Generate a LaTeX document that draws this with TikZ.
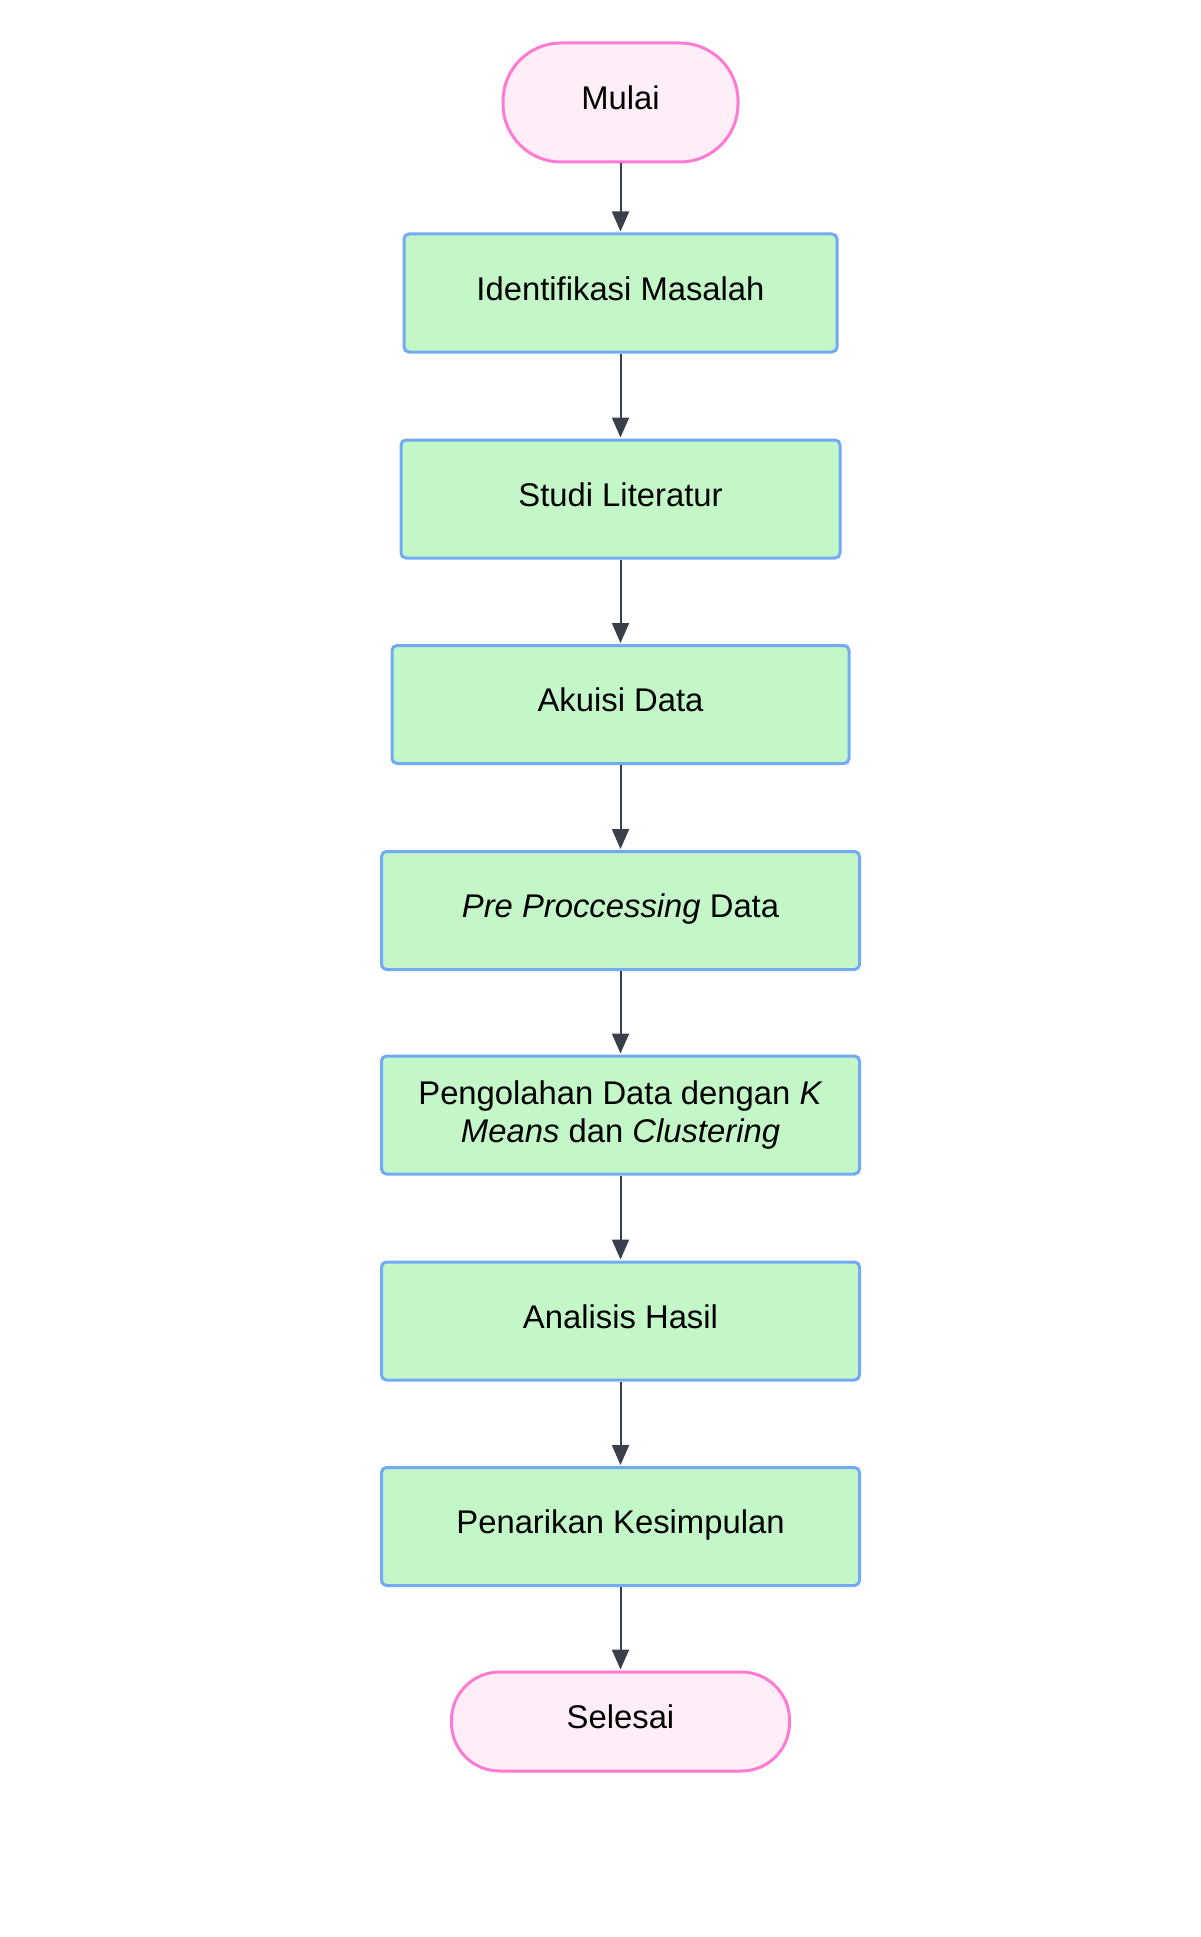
\documentclass[tikz,border=0pt]{standalone}
\usepackage{fontspec}
\setmainfont{Liberation Sans}
\usetikzlibrary{arrows.meta}
\definecolor{boxfill}{HTML}{C3F7C7}
\definecolor{boxline}{HTML}{72AAF7}
\definecolor{termfill}{HTML}{FFEEF8}
\definecolor{termline}{HTML}{FF7AD3}
\definecolor{arrowc}{HTML}{3A3F4C}
\tikzset{
  base/.style={font=\fontsize{16.4pt}{19pt}\selectfont, align=center, inner sep=0pt, line width=1.5pt},
  oneline/.style={text height=12pt, text depth=5pt},
  procbox/.style={base, draw=boxline, fill=boxfill, rounded corners=2.5pt, minimum height=59pt},
  termbox/.style={base, oneline, draw=termline, fill=termfill, rounded corners=24pt},
  flow/.style={draw=arrowc, line width=1pt, -{Triangle[length=10pt,width=8.5pt]}, shorten >=0.5pt}
}
\begin{document}
\begin{tikzpicture}[x=0.5pt,y=-0.5pt]
\useasboundingbox (0,0) rectangle (1200,1937);
\node[termbox, minimum width=117.5pt, minimum height=59.5pt, rounded corners=29pt] (mulai) at (620.5,102.5) {Mulai};
\node[procbox, oneline, minimum width=216.5pt] (ident) at (620.5,293) {Identifikasi Masalah};
\node[procbox, oneline, minimum width=219.5pt] (studi) at (620.5,499) {Studi Literatur};
\node[procbox, oneline, minimum width=228.5pt] (akuisi) at (620.5,704.5) {Akuisi Data};
\node[procbox, oneline, minimum width=239pt] (pre) at (620.5,910.5) {\textit{Pre Proccessing} Data};
\node[procbox, minimum width=239pt] (olah) at (620.5,1115) {Pengolahan Data dengan \textit{K}\\\textit{Means} dan \textit{Clustering}};
\node[procbox, oneline, minimum width=239pt] (analisis) at (620.5,1321) {Analisis Hasil};
\node[procbox, oneline, minimum width=239pt] (tarik) at (620.5,1526.5) {Penarikan Kesimpulan};
\node[termbox, minimum width=169pt, minimum height=49.5pt] (selesai) at (620.5,1721.5) {Selesai};
\draw[flow] (mulai) -- (ident);
\draw[flow] (ident) -- (studi);
\draw[flow] (studi) -- (akuisi);
\draw[flow] (akuisi) -- (pre);
\draw[flow] (pre) -- (olah);
\draw[flow] (olah) -- (analisis);
\draw[flow] (analisis) -- (tarik);
\draw[flow] (tarik) -- (selesai);
\end{tikzpicture}
\end{document}
